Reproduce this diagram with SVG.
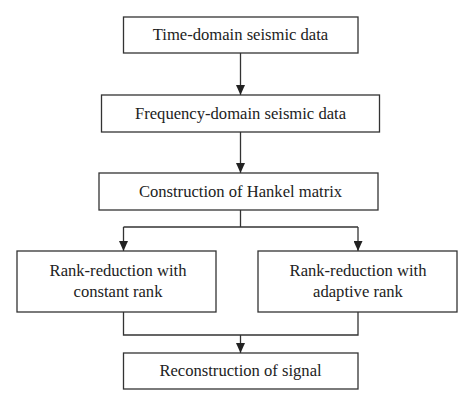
<svg xmlns="http://www.w3.org/2000/svg" width="474" height="407" viewBox="0 0 474 407">
<defs>
<marker id="ah" markerWidth="10" markerHeight="9" refX="10" refY="4.5" orient="auto" markerUnits="userSpaceOnUse">
<path d="M0,0 L10,4.5 L0,9 Z" fill="#222"/>
</marker>
<style>
rect{fill:#fff;stroke:#333;stroke-width:1.3}
text{font-family:"Liberation Serif","Times New Roman",serif;font-size:16.6px;fill:#222;text-anchor:middle}
.c{fill:none;stroke:#333;stroke-width:1.3}
</style>
</defs>
<rect x="0" y="0" width="474" height="407" style="fill:#fff;stroke:none"/>
<g id="connectors">
<path class="c" d="M240.5,53 V95" marker-end="url(#ah)"/>
<path class="c" d="M240.5,132 V173" marker-end="url(#ah)"/>
<path class="c" d="M240.5,210 V227"/>
<path class="c" d="M123.5,227 H358"/>
<path class="c" d="M123.5,227 V251" marker-end="url(#ah)"/>
<path class="c" d="M358,227 V251" marker-end="url(#ah)"/>
<path class="c" d="M123.5,312 V335 H358 V312"/>
<path class="c" d="M240.5,335 V353" marker-end="url(#ah)"/>
</g>
<g id="n1"><rect x="123.5" y="17" width="234.5" height="36"/><text x="240.5" y="39.5">Time-domain seismic data</text></g>
<g id="n2"><rect x="101.5" y="95" width="278" height="37"/><text x="240.5" y="118.5">Frequency-domain seismic data</text></g>
<g id="n3"><rect x="99" y="173" width="279" height="37"/><text x="240.5" y="196.5">Construction of Hankel matrix</text></g>
<g id="n4"><rect x="17" y="251" width="199" height="61"/><text x="118" y="275.5">Rank-reduction with</text><text x="118" y="296.5">constant rank</text></g>
<g id="n5"><rect x="258" y="251" width="199" height="61"/><text x="358" y="275.5">Rank-reduction with</text><text x="358" y="296.5">adaptive rank</text></g>
<g id="n6"><rect x="123.5" y="353" width="234.5" height="36"/><text x="240.5" y="375.5">Reconstruction of signal</text></g>
</svg>
